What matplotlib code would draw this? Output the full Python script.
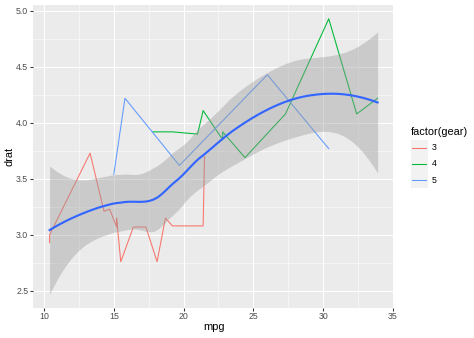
import math
import numpy as np
import matplotlib
matplotlib.use("Agg")
import matplotlib.pyplot as plt
from matplotlib.patches import Rectangle
from matplotlib.lines import Line2D

plt.rcParams['font.family'] = ['Liberation Sans', 'DejaVu Sans']

# mtcars: mpg, drat, gear (original row order)
mpg = [21.0, 21.0, 22.8, 21.4, 18.7, 18.1, 14.3, 24.4, 22.8, 19.2, 17.8, 16.4,
       17.3, 15.2, 10.4, 10.4, 14.7, 32.4, 30.4, 33.9, 21.5, 15.5, 15.2, 13.3,
       19.2, 27.3, 26.0, 30.4, 15.8, 19.7, 15.0, 21.4]
drat = [3.90, 3.90, 3.85, 3.08, 3.15, 2.76, 3.21, 3.69, 3.92, 3.92, 3.92, 3.07,
        3.07, 3.07, 2.93, 3.00, 3.23, 4.08, 4.93, 4.22, 3.70, 2.76, 3.15, 3.73,
        3.08, 4.08, 4.43, 3.77, 4.22, 3.62, 3.54, 4.11]
gear = [4, 4, 4, 3, 3, 3, 3, 4, 4, 4, 4, 3, 3, 3, 3, 3, 3, 4, 4, 4, 3, 3, 3, 3,
        3, 4, 5, 5, 5, 5, 5, 4]
gear_levels = [3, 4, 5]
gear_colors = {3: "#F8766D", 4: "#00BA38", 5: "#619CFF"}

x = np.array(mpg)
y = np.array(drat)
g = np.array(gear)


# local quadratic fit at x0: rows giving value and slope
def local_rows(xd, x0, span=0.75):
    n = len(xd)
    q = int(np.floor(n * span))
    d = np.abs(xd - x0)
    h = np.sort(d)[q - 1]
    u = d / h
    w = np.where(u < 1, (1 - u ** 3) ** 3, 0.0)
    X = np.column_stack([np.ones(n), xd - x0, (xd - x0) ** 2])
    XtW = X.T * w
    coef = np.linalg.solve(XtW @ X, XtW)
    return coef[0], coef[1]


# kd-tree vertices like R's loess surface="interpolate" (1 predictor)
def kd_vertices(xd, span=0.75, cell=0.2):
    xsrt = np.sort(xd)
    n = len(xsrt)
    fc = int(np.floor(n * span * cell))
    mu = 0.005 * (xsrt[-1] - xsrt[0])
    verts = [xsrt[0] - mu, xsrt[-1] + mu]

    def split(l, u):
        if u - l + 1 <= fc:
            return
        m = (l + u) // 2
        offset = 0
        while l <= m + offset < u:
            if xsrt[m + offset] == xsrt[m + offset + 1]:
                offset = -offset
                if offset >= 0:
                    offset += 1
            else:
                m = m + offset
                break
        t = (xsrt[m] + xsrt[m + 1]) / 2
        verts.append(t)
        split(l, m)
        split(m + 1, u)

    split(0, n - 1)
    return np.array(sorted(verts))


def interp_rows(xd, x0s, verts):
    vals, slopes = zip(*[local_rows(xd, v) for v in verts])
    vals, slopes = np.array(vals), np.array(slopes)
    rows = []
    for t in x0s:
        j = min(max(np.searchsorted(verts, t) - 1, 0), len(verts) - 2)
        v0, v1 = verts[j], verts[j + 1]
        hh = v1 - v0
        s = (t - v0) / hh
        h00 = 2 * s ** 3 - 3 * s ** 2 + 1
        h10 = s ** 3 - 2 * s ** 2 + s
        h01 = -2 * s ** 3 + 3 * s ** 2
        h11 = s ** 3 - s ** 2
        rows.append(h00 * vals[j] + h10 * hh * slopes[j] + h01 * vals[j + 1] + h11 * hh * slopes[j + 1])
    return np.array(rows)


def t_ppf(p, df):
    c = math.exp(math.lgamma((df + 1) / 2) - math.lgamma(df / 2)) / math.sqrt(df * math.pi)

    def cdf(t):
        xx = np.linspace(0, t, 2001)
        return 0.5 + np.trapezoid(c * (1 + xx ** 2 / df) ** (-(df + 1) / 2), xx)
    lo, hi = 0.0, 10.0
    for _ in range(60):
        mid = (lo + hi) / 2
        if cdf(mid) < p:
            lo = mid
        else:
            hi = mid
    return (lo + hi) / 2


verts = kd_vertices(x)
L = interp_rows(x, x, verts)
R = np.eye(len(x)) - L
RtR = R.T @ R
one_delta = np.trace(RtR)
two_delta = np.trace(RtR @ RtR)
resid = y - L @ y
sig = np.sqrt(np.sum(resid ** 2) / one_delta)
dfree = one_delta ** 2 / two_delta

xs = np.linspace(x.min(), x.max(), 80)
Ls = interp_rows(x, xs, verts)
fit = Ls @ y
se = sig * np.sqrt(np.sum(Ls ** 2, axis=1))
tq = t_ppf(0.975, dfree)
lower = fit - tq * se
upper = fit + tq * se

# figure
W, H = 474, 338
fig = plt.figure(figsize=(W / 72, H / 72), dpi=72)
left, right, top, bottom = 33.2, 394.0, 5.0, 308.0
ax = fig.add_axes([left / W, (H - bottom) / H, (right - left) / W, (bottom - top) / H])
ax.set_facecolor("#EBEBEB")
for sp in ax.spines.values():
    sp.set_visible(False)

for lev in gear_levels:
    m = g == lev
    xi, yi = x[m], y[m]
    o = np.argsort(xi, kind="stable")
    ax.plot(xi[o], yi[o], color=gear_colors[lev], lw=1.07, zorder=3)

ax.fill_between(xs, lower, upper, color="#999999", alpha=0.4, lw=0, zorder=4)
ax.plot(xs, fit, color="#3366FF", lw=2.13, zorder=5)

xr = x.max() - x.min()
ax.set_xlim(x.min() - 0.05 * xr, x.max() + 0.05 * xr)
ylo = min(lower.min(), y.min())
yhi = max(upper.max(), y.max())
yr = yhi - ylo
ax.set_ylim(ylo - 0.05 * yr, yhi + 0.05 * yr)

xt = [10, 15, 20, 25, 30, 35]
yt = [2.5, 3.0, 3.5, 4.0, 4.5, 5.0]
ax.set_xticks(xt)
ax.set_xticklabels([str(v) for v in xt])
ax.set_yticks(yt)
ax.set_yticklabels(["%.1f" % v for v in yt])
ax.set_xticks([12.5, 17.5, 22.5, 27.5, 32.5], minor=True)
ax.set_yticks([2.75, 3.25, 3.75, 4.25, 4.75], minor=True)
ax.grid(which="major", color="white", lw=1.07, zorder=0)
ax.grid(which="minor", color="white", lw=0.53, zorder=0)
ax.set_axisbelow(True)
ax.tick_params(which="major", length=2.75, width=1.07, color="#333333",
               labelsize=8.8, labelcolor="#4D4D4D", pad=2.2)
ax.tick_params(axis="x", which="major", pad=0.8)
ax.tick_params(which="minor", length=0)
ax.set_xlabel("mpg", fontsize=11, labelpad=1.5)
ax.set_ylabel("drat", fontsize=11, labelpad=2)

# legend
def fx(px):
    return px / W


def fy(py):
    return (H - py) / H


fig.text(fx(410.5), fy(132), "factor(gear)", fontsize=11, ha="left", va="center")
key_top, key_h = 139.6, 16.2
fig.patches.append(Rectangle((fx(410.5), fy(key_top + 3 * key_h)), fx(17.3) - fx(0),
                             fy(key_top) - fy(key_top + 3 * key_h),
                             transform=fig.transFigure, color="#F2F2F2", lw=0))
for i, lev in enumerate(gear_levels):
    cy = key_top + key_h * (i + 0.5)
    fig.lines.append(Line2D([fx(412.2), fx(426.1)], [fy(cy), fy(cy)], color=gear_colors[lev],
                            lw=1.07, transform=fig.transFigure))
    fig.text(fx(432), fy(cy), str(lev), fontsize=8.8, ha="left", va="center")

fig.savefig("out.png", dpi=72)
